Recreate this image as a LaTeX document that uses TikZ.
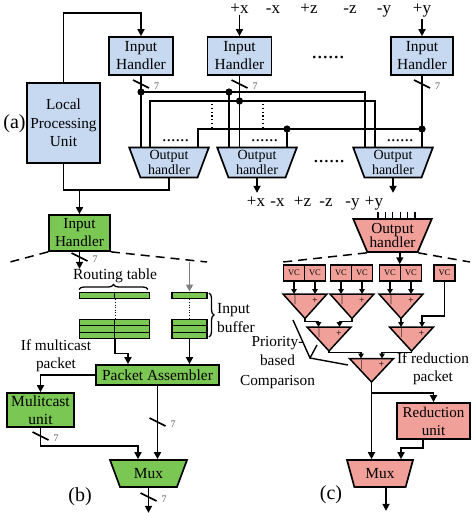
\documentclass[tikz,border=0pt]{standalone}
\usepackage{fontspec}
\setmainfont{Liberation Serif}
\usetikzlibrary{shapes.geometric,arrows.meta,decorations.pathreplacing}
\definecolor{ihblue}{RGB}{198,217,241}
\definecolor{nigreen}{RGB}{122,199,84}
\definecolor{nired}{RGB}{240,160,152}
\newcommand{\fsz}[2]{\fontsize{#1}{#2}\selectfont}
% bus width mark: name, x, y
\newcommand{\busw}[3]{%
  \draw[slashmark] (#2-8,#3-4) -- (#2+8,#3+4);
  \node[sevenlbl] (#1) at (#2+15.5,#3+2) {7};}
\tikzset{
  wire/.style={line width=1.6pt},
  blubox/.style={draw, line width=1.7pt, fill=ihblue, align=center, inner sep=0pt},
  grnbox/.style={blubox, fill=nigreen},
  redbox/.style={blubox, fill=nired},
  ohtrap/.style={trapezium, trapezium stretches=true, draw, line width=1.7pt,
    align=center, inner sep=0pt, trapezium left angle=#1, trapezium right angle=#1},
  cell/.style={draw, line width=1.4pt, fill=nigreen, minimum width=35pt,
    minimum height=6.5pt, inner sep=0pt},
  vcbox/.style={draw, line width=1.5pt, fill=nired, minimum width=21pt,
    minimum height=16pt, inner sep=0pt, font=\fsz{8.5}{9}},
  cmpr/.style={draw, line width=1.5pt, fill=nired},
  smallhead/.style={-{Triangle[length=5pt,width=5.5pt]}},
  pmlbl/.style={inner sep=0pt, font=\fsz{10}{10}},
  dirlbl/.style={inner sep=1pt, font=\fsz{17}{19}},
  txtlbl/.style={inner sep=0pt, align=center, font=\fsz{15.3}{18}},
  sevenlbl/.style={inner sep=0pt, text=black!65, font=\fsz{10}{11}},
  slashmark/.style={line width=1.6pt},
  dotwire/.style={line width=1.2pt, dash pattern=on 1.2pt off 2.6pt},
  dashline/.style={line width=1.5pt, dash pattern=on 9pt off 6pt},
  dotlbl/.style={inner sep=0pt, anchor=base}
}
\begin{document}
\begin{tikzpicture}[x=1pt, y=-1pt, >={Triangle[length=7pt,width=7pt]}]
\useasboundingbox (0,0) rectangle (474,513);

% ---------- (a) router ----------
\node[blubox, minimum width=73, minimum height=80, font=\fsz{15.3}{18.5}] (LPU) at (63.5,123) {Local\\Processing\\Unit};
\node[txtlbl, font=\fsz{20}{22}] (alab) at (14.5,124) {(a)};
\node[blubox, minimum width=64, minimum height=38, font=\fsz{15.4}{18}] (IH1) at (141,56) {Input\\Handler};
\node[blubox, minimum width=64, minimum height=38, font=\fsz{15.4}{18}] (IH2) at (239.5,56) {Input\\Handler};
\node[blubox, minimum width=62, minimum height=38, font=\fsz{15.4}{18}] (IH3) at (422,56) {Input\\Handler};
\node[dotlbl, font=\fsz{22}{22}] (ihdots) at (328,58.5) {......};

\node[ohtrap=108.4, fill=ihblue, minimum width=80, minimum height=30, font=\fsz{14}{15.5}] (OH1) at (169,162.5) {Output\\handler};
\node[ohtrap=108.4, fill=ihblue, minimum width=80, minimum height=30, font=\fsz{14}{15.5}] (OH2) at (257,162.5) {Output\\handler};
\node[ohtrap=108.4, fill=ihblue, minimum width=80, minimum height=30, font=\fsz{14}{15.5}] (OH3) at (393,162.5) {Output\\handler};
\node[dotlbl, font=\fsz{21}{21}] (ohdots) at (329,162) {......};

% port labels
\foreach \n/\t/\x in {lpx/+x/239.5, lmx/-x/273, lpz/+z/309, lmz/-z/350, lmy/-y/384, lpy/+y/422}
  \node[dirlbl, anchor=base] (\n) at (\x,14) {\t};
\foreach \n/\t/\x in {opx/+x/256, omx/-x/277.5, opz/+z/302.5, omz/-z/326, omy/-y/352.5, opy/+y/374}
  \node[dirlbl, anchor=base] (\n) at (\x,206.5) {\t};
\draw[wire, ->] (lpx.south) -- (IH2.north);
\draw[wire, ->] (lpy.south) -- (IH3.north);

% local unit in/out
\draw[wire, ->] (LPU.north) -- ++(0,-69) -| (IH1.north);
\coordinate (ej) at (79.5,190);
\draw[wire] (OH1.south) |- (ej) -| (LPU.south);
\draw[wire, ->] (OH2.south) -- ++(0,14.5);
\draw[wire, ->] (OH3.south) -- ++(0,14.5);

% crossbar
\coordinate (jA1) at (141,92);  \coordinate (jA2) at (229,92);  \coordinate (jA3) at (365,92);
\coordinate (jB1) at (150,101); \coordinate (jB2) at (239.5,101); \coordinate (jB3) at (375,101);
\coordinate (jC1) at (198,129); \coordinate (jC2) at (287,129); \coordinate (jC3) at (422,129);
\draw[wire] (IH1.south) -- (IH1.south |- OH1.north);
\draw[wire] (IH2.south) -- (IH2.south |- OH2.north);
\draw[wire] (IH3.south) -- (IH3.south |- OH3.north);
\draw[wire] (jA1) -- (jA3) -- (jA3 |- OH3.north);
\draw[wire] (jA2) -- (jA2 |- OH2.north);
\draw[wire] (jB1 |- OH1.north) -- (jB1) -- (jB3) -- (jB3 |- OH3.north);
\draw[wire] (jC1 |- OH1.north) -- (jC1) -- (jC3);
\draw[wire] (jC2) -- (jC2 |- OH2.north);
\foreach \j in {jA1,jA2,jB2,jC2,jC3} \fill (\j) circle (3.6pt);
\draw[dotwire] (212,104) -- (212,127);
\draw[dotwire] (263,104) -- (263,127);
\node[dotlbl, font=\fsz{18}{18}] (oh1dots) at (175.5,142) {......};
\node[dotlbl, font=\fsz{18}{18}] (oh2dots) at (264.5,142) {......};
\node[dotlbl, font=\fsz{18}{18}] (oh3dots) at (400,142) {......};
\busw{w1}{141}{84}
\busw{w2}{239.5}{84}
\busw{w3}{422}{84}

% ---------- (b) input handler ----------
\node[grnbox, minimum width=61, minimum height=36, font=\fsz{15.2}{18}] (gIH) at (79.5,233) {Input\\Handler};
\draw[wire, ->] (ej) -- (gIH.north);
\coordinate (gdl) at (10,262); \coordinate (gdr) at (207,262);
\draw[dashline] (gIH.south west) -- (gdl);
\draw[dashline] (gIH.south east) -- (gdr);
\draw[wire, ->] (gIH.south) -- ++(0,17);
\busw{w4}{79.5}{257}
\node[txtlbl, font=\fsz{15.5}{18}] (rtlbl) at (115,276) {Routing table};
\draw[line width=1.3pt, decorate, decoration={brace, amplitude=5pt}] (79,289.5) -- (148,289.5);
\foreach \r/\y in {1/295.5, 2/322.5, 3/329, 4/335.5} {
  \node[cell] (rtl\r) at (97,\y) {};
  \node[cell] (rtr\r) at (132,\y) {};
  \node[cell] (ib\r) at (189.5,\y) {};
}
\draw[line width=0.8pt, dash pattern=on 1pt off 1.6pt] (rtl1.south east) -- (rtl2.north east);
\draw[line width=0.8pt, dash pattern=on 1pt off 1.6pt] (ib1.south) -- (ib2.north);
\coordinate (gin) at (189.5,262);
\draw[wire, gray, ->] (gin) -- (ib1.north);
\draw[line width=1.3pt, decorate, decoration={brace, amplitude=5pt}] (209,293) -- (209,337);
\node[txtlbl, anchor=west, align=left, font=\fsz{15.5}{19}] (iblbl) at (217,317.5) {Input\\buffer};

\node[grnbox, minimum width=123, minimum height=20, font=\fsz{15.4}{18}] (PA) at (157.5,375) {Packet Assembler};
\draw[wire, ->] (rtl4.south east) -- ++(0,14) -| ([xshift=-29.5pt]PA.north);
\draw[wire, ->] (ib4.south) -- (ib4.south |- PA.north);
\node[txtlbl] (mclbl) at (56,356) {If multicast\\packet};
\node[grnbox, minimum width=67, minimum height=34, font=\fsz{15.5}{18}] (MC) at (40.5,410) {Mulitcast\\unit};
\draw[wire, ->] (PA.west) -| (MC.north);
\node[ohtrap=116.6, fill=nigreen, minimum width=77, minimum height=27, font=\fsz{15.4}{18}] (gMux) at (148.5,473.5) {Mux};
\draw[wire, ->] (MC.south) -- ++(0,18) -| ([xshift=-10.5pt]gMux.north);
\draw[wire, ->] (PA.south) -- (PA.south |- gMux.north);
\draw[wire, ->] (gMux.south) -- ++(0,25);
\busw{w5}{40.5}{436}
\busw{w6}{157.5}{422}
\busw{w7}{148.5}{497}
\node[txtlbl, font=\fsz{20}{22}] (blab) at (80,497) {(b)};

% ---------- (c) output handler ----------
\node[ohtrap=117.3, fill=nired, minimum width=79, minimum height=33, font=\fsz{15.3}{14.5}] (rOH) at (392.5,235.5) {Output\\handler};
\foreach \i in {0,...,5} \draw[line width=1.2pt] (378+7.4*\i,212) -- (378+7.4*\i,219);
\coordinate (rdl) at (283,262); \coordinate (rdr) at (470,262);
\draw[dashline] (rOH.bottom left corner) -- (rdl);
\draw[dashline] (rOH.bottom right corner) -- (rdr);
\foreach \n/\x in {vc1/294, vc2/315, vc3/341, vc4/362, vc5/390, vc6/411, vc7/444.5}
  \node[vcbox] (\n) at (\x,273) {VC};
\draw[wire, ->] (rOH.south -| vc6.north west) -- (vc6.north west);

% comparators
\foreach \n/\cx/\ty/\h in {c1/305/294/24.5, c2/352/294/24.5, c3/401/294/24.5, c4/329/327/24, c5/411.5/327/24, c6/371.5/358.5/23.5} {
  \draw[cmpr] (\cx-22,\ty) -- (\cx+22,\ty) -- (\cx,\ty+\h) coordinate (\n) -- cycle;
  \coordinate (\n-m) at (\cx-10.5,\ty);
  \coordinate (\n-p) at (\cx+10.5,\ty);
  \node[pmlbl] (\n-ml) at (\cx-10,\ty+6.5) {|};
  \node[pmlbl] (\n-pl) at (\cx+10,\ty+6.5) {+};
}
\draw[wire, smallhead] (vc1.south) -- (vc1.south |- c1-m);
\draw[wire, smallhead] (vc2.south) -- (vc2.south |- c1-p);
\draw[wire, smallhead] (vc3.south) -- (vc3.south |- c2-m);
\draw[wire, smallhead] (vc4.south) -- (vc4.south |- c2-p);
\draw[wire, smallhead] (vc5.south) -- (vc5.south |- c3-m);
\draw[wire, smallhead] (vc6.south) -- (vc6.south |- c3-p);
\draw[wire, smallhead] (c1) -- ++(0,3) -| (c4-m);
\draw[wire, smallhead] (c2) -- ++(0,3) -| (c4-p);
\draw[wire, smallhead] (c3) -- (c3 |- c5-m);
\draw[wire, smallhead] (vc7.south) -- ++(0,34) -| (c5-p);
\draw[wire, smallhead] (c4) -- ++(0,1.5) -| (c6-m);
\draw[wire, smallhead] (c5) -- ++(0,1.5) -| (c6-p);

\node[txtlbl, font=\fsz{15.3}{19.5}] (pblbl) at (277.5,362.5) {Priority-\\based\\Comparison};
\coordinate (pbj) at (310,358);
\coordinate (pbt1) at (293,320); \coordinate (pbt2) at (317,345); \coordinate (pbt3) at (348,365);
\draw[line width=1.4pt] (pbt1) -- (pbj) -- (pbt3);
\draw[line width=1.4pt] (pbj) -- (pbt2);
\node[txtlbl] (rdlbl) at (433,369) {If reduction\\packet};

\node[redbox, minimum width=73, minimum height=36, font=\fsz{15}{18}] (Red) at (433.5,421) {Reduction\\unit};
\node[ohtrap=112.2, fill=nired, minimum width=66, minimum height=27, font=\fsz{15.4}{18}] (rMux) at (380,473.5) {Mux};
\draw[wire, ->] (c6) -- (c6 |- rMux.north);
\draw[wire, ->] (c6) ++(0,11) -| (Red.north);
\draw[wire, ->] ([xshift=-10.5pt]Red.south) -- ++(0,8) -| ([xshift=21pt]rMux.north);
\draw[wire, ->] ([xshift=6pt]rMux.south) -- ++(0,23);
\node[txtlbl, font=\fsz{20}{22}] (clab) at (331,495) {(c)};
\end{tikzpicture}
\end{document}
